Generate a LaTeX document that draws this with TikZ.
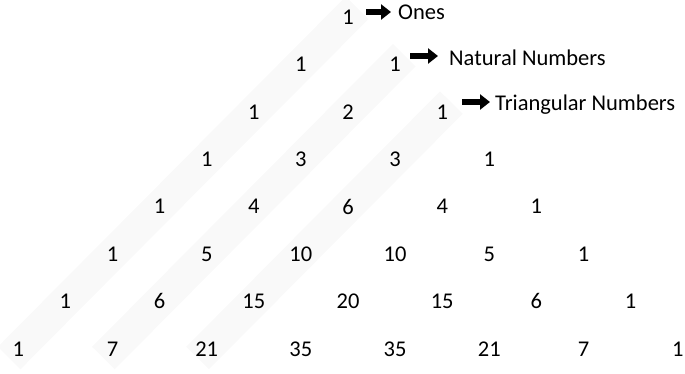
\documentclass[tikz,border=0pt]{standalone}
\usepackage{fontspec}
\setmainfont{Carlito}
\usepackage{tikz}
\usetikzlibrary{arrows.meta, backgrounds}

\begin{document}
\begin{tikzpicture}[
      x=1pt, y=1pt,
      entry/.style={
         inner sep=0pt,
         font=\fontsize{22.5}{27}\selectfont},
      lbl/.style={
         inner sep=0pt,
         anchor=base west,
         font=\fontsize{22.5}{27}\selectfont},
      band/.style={
         line width=32pt,
         draw=black!2.5,
         line cap=butt,
         shorten <=-13pt,
         shorten >=-13pt},
      fatarrow/.style={
         line width=6.5pt,
         -{Triangle[length=10pt,width=15pt]}}
      ]
      \useasboundingbox (0,0) rectangle (685,373);

    % row \r, entry \k = r choose k
    \foreach \r in {0,...,7}
      \foreach \k in {0,...,\r} {
        \pgfmathtruncatemacro\v{round(factorial(\r)/(factorial(\k)*factorial(\r-\k)))}
        \node[entry] (n-\r-\k) at ({348+47.1*(2*\k-\r)},{356-47.4*\r}) {\v};
      }

    \begin{scope}[on background layer]
      \draw[band] (n-7-0.center) -- (n-0-0.center);
      \draw[band] (n-7-1.center) -- (n-1-1.center);
      \draw[band] (n-7-2.center) -- (n-2-2.center);
    \end{scope}

      \node[lbl] (ones) at (398,353) {Ones};
      \node[lbl] (natural) at (449,307) {Natural Numbers};
      \node[lbl] (triangular) at (495,262) {Triangular Numbers};

      \coordinate (a1) at (366,361);
      \coordinate (a2) at (410,317);
      \coordinate (a3) at (462,271);

    \foreach \a/\l/\s in {a1/ones/7, a2/natural/11, a3/triangular/5}
       \draw[fatarrow, shorten >=\s pt] (\a) -- (\a -| \l.west);

    \end{tikzpicture}
\end{document}
